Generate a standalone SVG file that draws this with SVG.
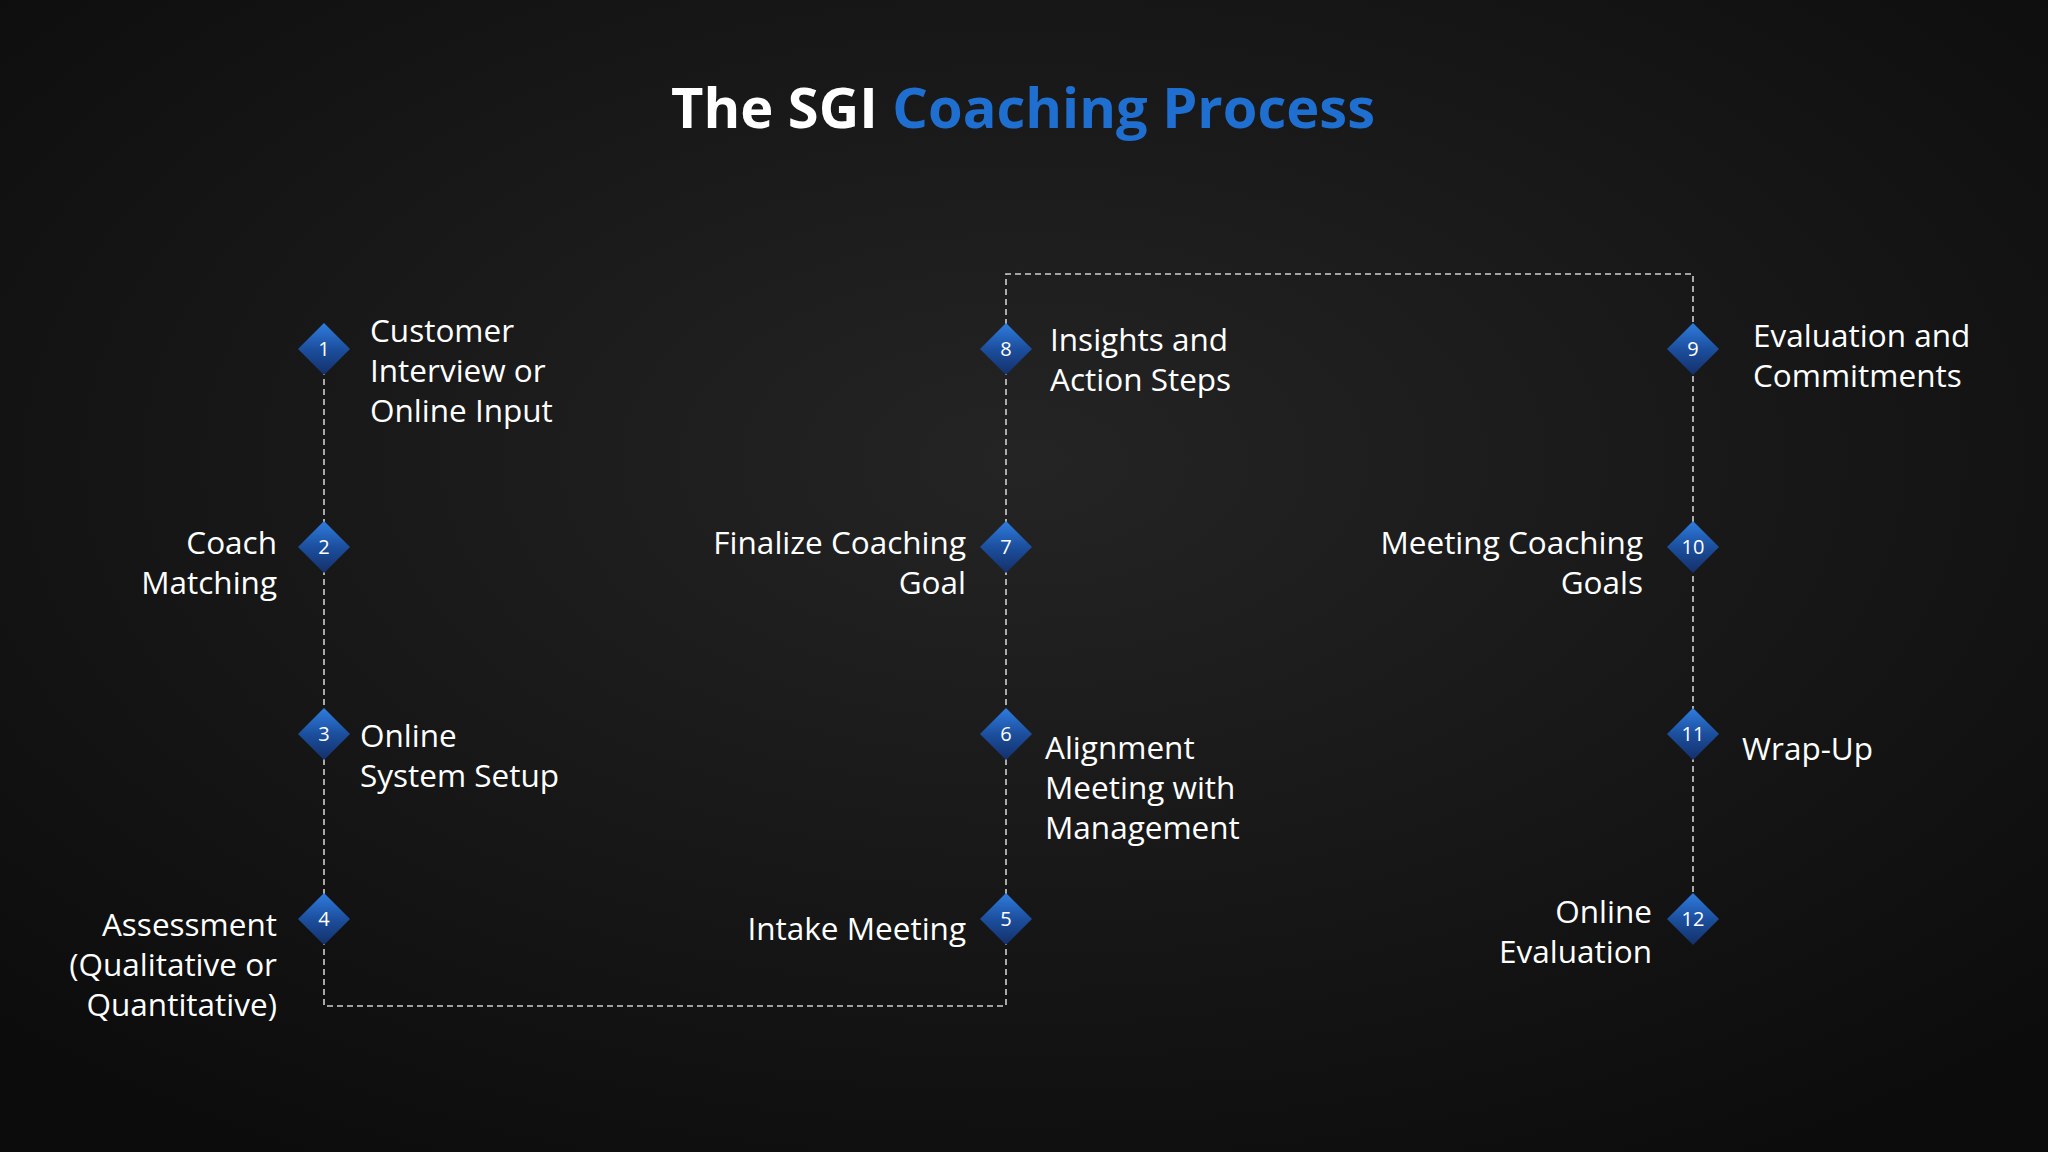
<svg xmlns="http://www.w3.org/2000/svg" width="2048" height="1152" viewBox="0 0 2048 1152">
<defs>
<radialGradient id="bg" cx="50%" cy="40%" r="70%"><stop offset="0" stop-color="#242424"/><stop offset="1" stop-color="#0c0c0c"/></radialGradient>
<linearGradient id="dg" x1="0" y1="0" x2="0" y2="1"><stop offset="0" stop-color="#2f7de0"/><stop offset="0.5" stop-color="#1c4f9e"/><stop offset="1" stop-color="#14306a"/></linearGradient>
<g id="d"><path d="M0,-26 L26,0 L0,26 L-26,0Z" fill="url(#dg)"/></g>
</defs>
<style>
.t{font-family:"Open Sans","Liberation Sans",sans-serif;font-size:31.5px;fill:#fff}
.r{text-anchor:end}
.n{font-family:"Open Sans","Liberation Sans",sans-serif;font-size:20px;fill:#fff;text-anchor:middle}
.c{fill:none;stroke:#cfcfcf;stroke-width:1.6;stroke-dasharray:6 4}
</style>
<rect width="2048" height="1152" fill="url(#bg)"/>
<text x="1023" y="128" text-anchor="middle" font-family="'Open Sans','Liberation Sans',sans-serif" font-size="56" font-weight="bold" fill="#fff">The SGI <tspan fill="#1f6fd1">Coaching Process</tspan></text>
<g id="connectors">
<path class="c" d="M324,349 V1006 H1006 V274 H1693 V919"/>
</g>
<g id="n1"><use href="#d" x="324" y="349"/><text class="n" x="324" y="356">1</text><text class="t" x="370" y="342">Customer<tspan x="370" dy="40">Interview or</tspan><tspan x="370" dy="40">Online Input</tspan></text></g>
<g id="n2"><use href="#d" x="324" y="547"/><text class="n" x="324" y="554">2</text><text class="t r" x="277" y="554">Coach<tspan x="277" dy="40">Matching</tspan></text></g>
<g id="n3"><use href="#d" x="324" y="734"/><text class="n" x="324" y="741">3</text><text class="t" x="360" y="747">Online<tspan x="360" dy="40">System Setup</tspan></text></g>
<g id="n4"><use href="#d" x="324" y="919"/><text class="n" x="324" y="926">4</text><text class="t r" x="277" y="936">Assessment<tspan x="277" dy="40">(Qualitative or</tspan><tspan x="277" dy="40">Quantitative)</tspan></text></g>
<g id="n5"><use href="#d" x="1006" y="919"/><text class="n" x="1006" y="926">5</text><text class="t r" x="966" y="940">Intake Meeting</text></g>
<g id="n6"><use href="#d" x="1006" y="734"/><text class="n" x="1006" y="741">6</text><text class="t" x="1045" y="759">Alignment<tspan x="1045" dy="40">Meeting with</tspan><tspan x="1045" dy="40">Management</tspan></text></g>
<g id="n7"><use href="#d" x="1006" y="547"/><text class="n" x="1006" y="554">7</text><text class="t r" x="966" y="554">Finalize Coaching<tspan x="966" dy="40">Goal</tspan></text></g>
<g id="n8"><use href="#d" x="1006" y="349"/><text class="n" x="1006" y="356">8</text><text class="t" x="1050" y="351">Insights and<tspan x="1050" dy="40">Action Steps</tspan></text></g>
<g id="n9"><use href="#d" x="1693" y="349"/><text class="n" x="1693" y="356">9</text><text class="t" x="1753" y="347">Evaluation and<tspan x="1753" dy="40">Commitments</tspan></text></g>
<g id="n10"><use href="#d" x="1693" y="547"/><text class="n" x="1693" y="554">10</text><text class="t r" x="1643" y="554">Meeting Coaching<tspan x="1643" dy="40">Goals</tspan></text></g>
<g id="n11"><use href="#d" x="1693" y="734"/><text class="n" x="1693" y="741">11</text><text class="t" x="1742" y="760">Wrap-Up</text></g>
<g id="n12"><use href="#d" x="1693" y="919"/><text class="n" x="1693" y="926">12</text><text class="t r" x="1652" y="923">Online<tspan x="1652" dy="40">Evaluation</tspan></text></g>
</svg>
